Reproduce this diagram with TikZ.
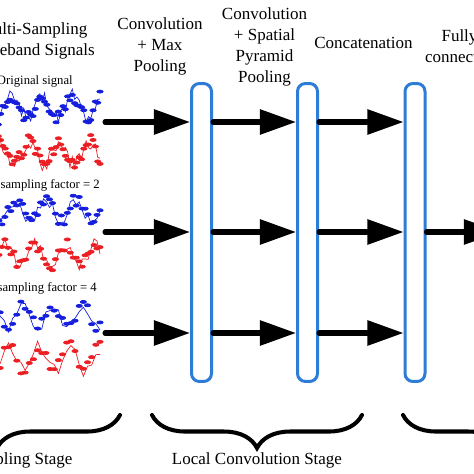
\documentclass[tikz,border=0pt]{standalone}
\usepackage{fontspec}
\setmainfont{Liberation Serif}
\usetikzlibrary{arrows.meta}
\usetikzlibrary{decorations.pathreplacing}
\definecolor{barblue}{RGB}{45,125,215}
\definecolor{sigblue}{RGB}{20,30,220}
\definecolor{sigred}{RGB}{235,30,35}

\begin{document}
\begin{tikzpicture}[x=0.7175pt, y=-0.7175pt,
	lbl/.style={font=\fontsize{12.2}{15.1}\selectfont, align=center, inner sep=0pt},
	tag/.style={font=\fontsize{9.1}{10}\selectfont, inner sep=0pt},
	layer/.style={draw=barblue, line width=2.15pt, rounded corners=5.7pt, minimum width=14.35pt, minimum height=213.8pt, inner sep=0pt},
	flow/.style={line width=3.6pt, line cap=round, -{Triangle[length=26pt,width=17.5pt]}},
	stage/.style={decorate, decoration={brace, mirror, amplitude=23.7pt}, line width=2.9pt, line cap=round}]

	\useasboundingbox (0,0) rectangle (474,474);
	\clip (0,0) rectangle (474,474);

	% sampled wideband signals (original, factor 2, factor 4)
	\foreach \yc/\amp/\np/\col/\sd in {107/18/46/sigblue/3, 153/19/46/sigred/7, 211/17/36/sigblue/11, 255/17/36/sigred/5, 316/17/26/sigblue/9, 359/19/26/sigred/13} {
		\pgfmathsetseed{\sd}
		\draw[\col, line width=0.5pt, mark=*, mark size=1.5pt, mark options={xscale=1.5, yscale=0.75}] plot[domain=-4:100, samples=\np] (\x, {\yc+\amp*(0.62*sin(12*\x+40*\sd)+0.38*rand)});
	}
	\node[tag, anchor=east] (orig) at (73,81) {Original signal};
	\node[tag, anchor=east] (fac2) at (100,185) {sampling factor = 2};
	\node[tag, anchor=east] (fac4) at (97,288) {sampling factor = 4};

	% stage titles
	\node[lbl] (inp) at (33,41) {Multi-Sampling\\Wideband Signals};
	\node[lbl] (conv) at (160,46) {Convolution\\+ Max\\Pooling};
	\node[lbl] (spp) at (264.5,47) {Convolution\\+ Spatial\\Pyramid\\Pooling};
	\node[lbl] (cat) at (363.5,43) {Concatenation};
	\node[lbl] (fc) at (459.5,46) {Fully\\connected};

	% feature layers
	\node[layer] (bar1) at (201.5,232.5) {};
	\node[layer] (bar2) at (307.5,232.5) {};
	\node[layer] (bar3) at (415,232.5) {};

	% data flow
	\foreach \r/\y in {1/122, 2/232, 3/333} {
		\coordinate (src\r) at (105,\y);
		\draw[flow] (src\r) -- (src\r -| bar1.west);
		\draw[flow] (src\r -| bar1.east) -- (src\r -| bar2.west);
		\draw[flow] (src\r -| bar2.east) -- (src\r -| bar3.west);
	}
	\coordinate (out) at (500,232);
	\draw[flow] (out -| bar3.east) -- (out);

	% stage braces
	\coordinate (b1l) at (-126,415); \coordinate (b1r) at (120,415);
	\coordinate (b2l) at (152,415); \coordinate (b2r) at (362,415);
	\coordinate (b3l) at (403,415); \coordinate (b3r) at (600,415);
	\draw[stage] (b1l) -- (b1r);
	\draw[stage] (b2l) -- (b2r);
	\draw[stage] (b3l) -- (b3r);
	\node[lbl] (st1) at (-3,460) {Multi-Sampling Stage};
	\node[lbl] (st2) at (257,460) {Local Convolution Stage};

\end{tikzpicture}
\end{document}
